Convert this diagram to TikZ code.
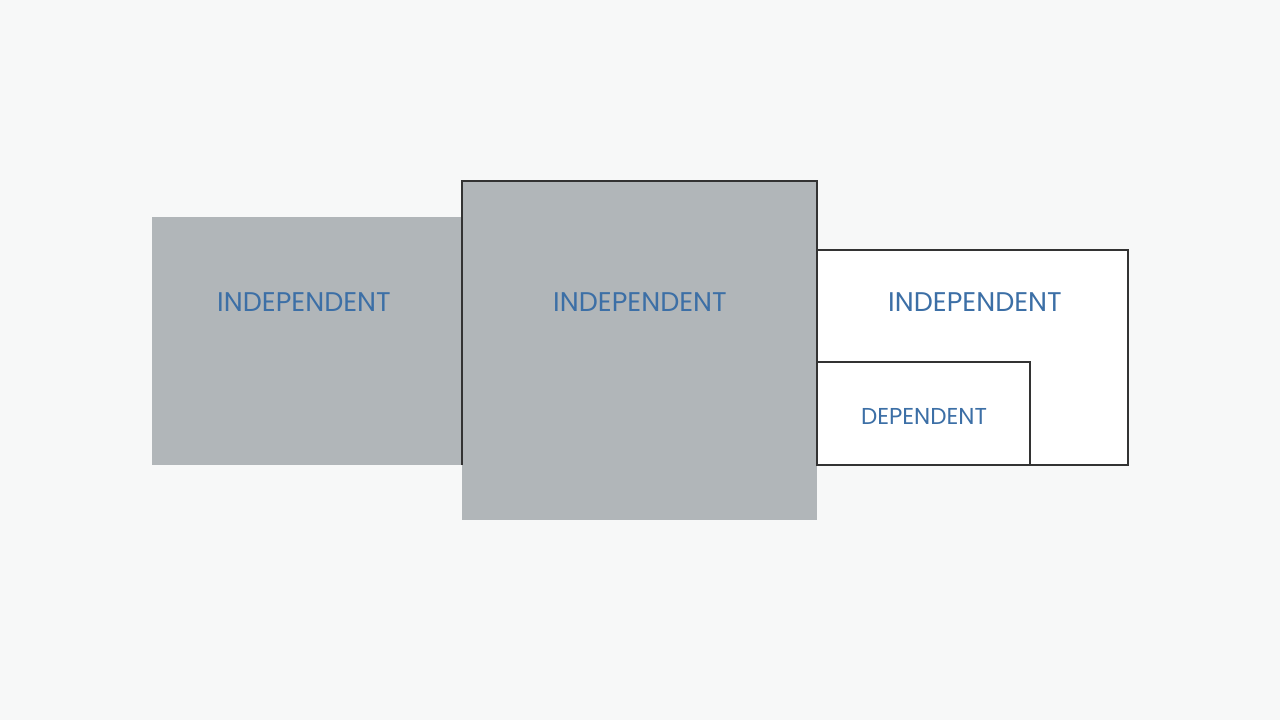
\documentclass[tikz,border=0pt]{standalone}
\usepackage{fontspec}
\setmainfont{Poppins}
\definecolor{bg}{HTML}{F7F8F8}
\definecolor{gbox}{HTML}{B1B6B9}
\definecolor{txt}{HTML}{3C6FA6}
\definecolor{edge}{HTML}{333333}
\begin{document}
\begin{tikzpicture}[x=1pt,y=-1pt,
  lbl/.style={text=txt,font=\fontsize{27}{30}\selectfont},
  lbls/.style={text=txt,font=\fontsize{23}{26}\selectfont}]
\fill[bg] (0,0) rectangle (1280,720);
\useasboundingbox (0,0) rectangle (1280,720);
\fill[gbox] (152,217) rectangle (462,465);
\fill[gbox] (462,181) rectangle (817,520);
\draw[edge,line width=1.6pt] (462,465) -- (462,181) -- (817,181) -- (817,465);
\fill[white] (817,250) rectangle (1128,465);
\draw[edge,line width=1.6pt] (817,250) rectangle (1128,465);
\draw[edge,line width=1.6pt] (817,362) rectangle (1030,465);
\node[lbl] (a) at (304,302) {INDEPENDENT};
\node[lbl] (b) at (640,302) {INDEPENDENT};
\node[lbl] (c) at (975,302) {INDEPENDENT};
\node[lbls] (d) at (924,416) {DEPENDENT};
\end{tikzpicture}
\end{document}
